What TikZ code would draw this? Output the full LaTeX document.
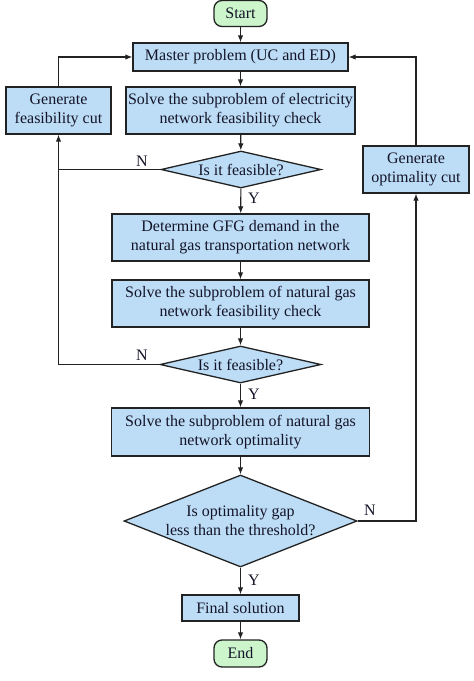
\documentclass[tikz,border=0pt]{standalone}
\usepackage{fontspec}
\setmainfont{Liberation Serif}
\usetikzlibrary{shapes.geometric,arrows.meta}
\definecolor{boxblue}{HTML}{BDDDF6}
\definecolor{boxgreen}{HTML}{CCF5CC}
\definecolor{edgecol}{HTML}{222222}
\definecolor{txtcol}{HTML}{141428}
\tikzset{
  txt/.style={font=\fontsize{16}{19}\selectfont, text=txtcol},
  procbox/.style={draw=edgecol, line width=1.3pt, fill=boxblue, inner sep=0pt, align=center, txt},
  termbox/.style={draw=edgecol, line width=1.3pt, fill=boxgreen, rounded corners=8pt, inner sep=0pt, txt, minimum width=53pt, minimum height=26pt},
  decbox/.style={draw=edgecol, line width=1.3pt, fill=boxblue, diamond, inner sep=0pt},
  flow/.style={draw=edgecol, line width=1.1pt, -{Latex[length=7pt,width=5.5pt]}},
  plainline/.style={draw=edgecol, line width=1.1pt},
  lab/.style={txt, inner sep=0pt}
}
\begin{document}
\begin{tikzpicture}[x=1pt,y=-1pt]
\useasboundingbox (0,0) rectangle (474,681);
\node[termbox] (start) at (240.5,13.5) {Start};
\node[procbox, minimum width=215pt, minimum height=28pt] (master) at (240.5,57) {Master problem (UC and ED)};
\node[procbox, minimum width=105pt, minimum height=47pt] (genfeas) at (58.5,110.5) {Generate\\feasibility cut};
\node[procbox, minimum width=229pt, minimum height=47pt] (elec) at (240.5,110.5) {Solve the subproblem of electricity\\network feasibility check};
\node[decbox, minimum width=160pt, minimum height=37pt, label={[lab]center:Is it feasible?}] (d1) at (241,169.5) {};
\node[procbox, minimum width=106pt, minimum height=47pt] (genopt) at (416,169.5) {Generate\\optimality cut};
\node[procbox, minimum width=257pt, minimum height=47pt] (gfg) at (240.5,237.5) {Determine GFG demand in the\\natural gas transportation network};
\node[procbox, minimum width=257pt, minimum height=47pt] (ngfeas) at (240.5,303.5) {Solve the subproblem of natural gas\\network feasibility check};
\node[decbox, minimum width=161pt, minimum height=37pt, label={[lab]center:Is it feasible?}] (d2) at (240.5,364.5) {};
\node[procbox, minimum width=258pt, minimum height=48pt] (ngopt) at (240.5,432) {Solve the subproblem of natural gas\\network optimality};
\node[decbox, minimum width=233pt, minimum height=92pt, label={[lab, align=center]center:Is optimality gap\\less than the threshold?}] (d3) at (240.5,521) {};
\node[procbox, minimum width=117pt, minimum height=26pt] (final) at (240.5,608) {Final solution};
\node[termbox, minimum height=27pt] (end) at (240.5,653.5) {End};

\draw[flow] (start) -- (master);
\draw[flow] (master) -- (elec);
\draw[flow] (elec) -- (d1);
\draw[flow] (d1) -- (gfg);
\draw[flow] (gfg) -- (ngfeas);
\draw[flow] (ngfeas) -- (d2);
\draw[flow] (d2) -- (ngopt);
\draw[flow] (ngopt) -- (d3);
\draw[flow] (d3) -- (final);
\draw[flow] (final) -- (end);

\draw[plainline] (d1.west) -- (genfeas.south |- d1.west);
\draw[flow] (d2.west) -| (genfeas.south);
\draw[flow] (genfeas.north) |- (master.west);
\draw[flow] (d3.east) -| (genopt.south);
\draw[flow] (genopt.north) |- (master.east);

\node[lab] (n1) at (142,161) {N};
\node[lab] (y1) at (254,198) {Y};
\node[lab] (n2) at (142,355) {N};
\node[lab] (y2) at (254,394) {Y};
\node[lab] (n3) at (370,510) {N};
\node[lab] (y3) at (254,580) {Y};
\end{tikzpicture}
\end{document}
